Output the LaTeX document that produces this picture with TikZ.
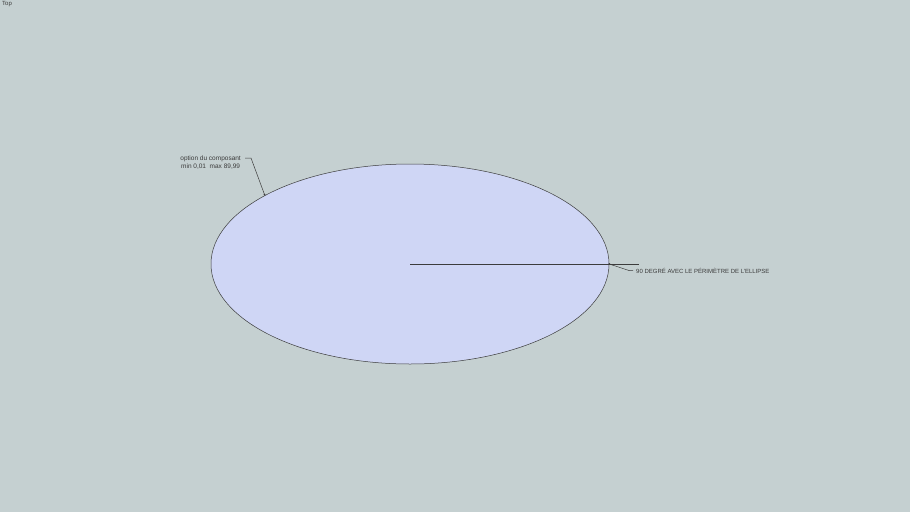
\documentclass[tikz,border=0pt]{standalone}
\usepackage{fontspec}
\usetikzlibrary{shapes.geometric}
\setmainfont{Liberation Sans}
\definecolor{bg}{RGB}{197,208,209}
\definecolor{ellfill}{RGB}{207,214,245}
\definecolor{ink}{RGB}{60,60,60}
\begin{document}
\begin{tikzpicture}[x=1pt,y=-1pt,
  lbl/.style={inner sep=0pt,font=\fontsize{6.5}{8}\selectfont,text=ink},
  leader/.style={draw=ink,line width=0.5pt}]
\fill[bg] (0,0) rectangle (910,512);
\useasboundingbox (0,0) rectangle (910,512);
\node[lbl,anchor=north west,font=\fontsize{6}{7}\selectfont] (top) at (2,1.5) {Top};
\node[draw=ink,line width=0.5pt,fill=ellfill,ellipse,minimum width=398pt,minimum height=200pt,inner sep=0pt] (ell) at (410,264) {};
\coordinate (c) at (410,264);
\coordinate (rend) at (639,264);
\draw[leader] (c) -- (rend);
\node[lbl,anchor=west,font=\fontsize{6}{7}\selectfont] (rl) at (636,270.5) {90 DEGRÉ AVEC LE PÉRIMÈTRE DE L'ELLIPSE};
\coordinate (rp) at (ell.east);
\coordinate (rk) at (629,270.5);
\coordinate (rk2) at (633,270.5);
\fill[ink] (rp) circle (1pt);
\draw[leader] (rp) -- (rk) -- (rk2);
\node[lbl,align=center,anchor=east] (tl) at (241,162.5) {option du composant\\min 0,01\ \ max 89,99};
\coordinate (tk1) at (245,158);
\coordinate (tk2) at (251,158);
\coordinate (tp) at (264.5,194.5);
\fill[ink] (tp) circle (1pt);
\draw[leader] (tk1) -- (tk2) -- (tp);
\end{tikzpicture}
\end{document}
